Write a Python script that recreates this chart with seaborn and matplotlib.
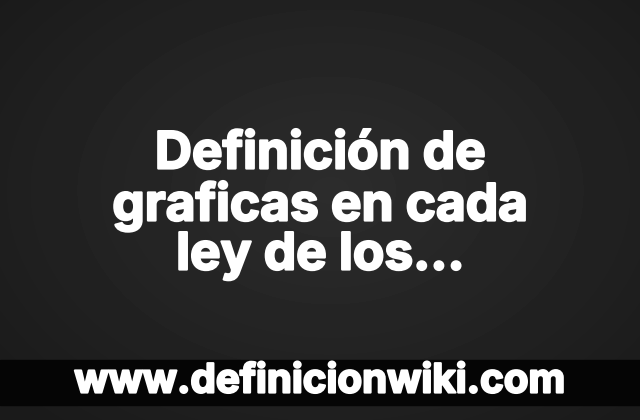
import numpy as np
import matplotlib.pyplot as plt
import matplotlib.patheffects as pe
import seaborn as sns
from matplotlib import font_manager

sns.set_theme(style='white')

title_lines = ['Definición de', 'graficas en cada', 'ley de los...']
line_y = [155, 206, 256]
site_label = 'www.definicionwiki.com'

names = {f.name for f in font_manager.fontManager.ttflist}
font = 'Inter' if 'Inter' in names else 'DejaVu Sans'
plt.rcParams['font.family'] = [font, 'DejaVu Sans']

fig = plt.figure(figsize=(6.4, 4.2), dpi=100)
ax = fig.add_axes([0, 0, 1, 1])
ax.set_xlim(0, 640)
ax.set_ylim(420, 0)
ax.axis('off')

# dark chalkboard background, a bit lighter in the middle
yy, xx = np.mgrid[0:420, 0:640]
d = np.sqrt(((xx - 330) / 420.0) ** 2 + ((yy - 190) / 300.0) ** 2)
shade = 0.175 - 0.07 * np.clip(d, 0, 1)
ax.imshow(shade, cmap='gray', vmin=0, vmax=1, extent=(0, 640, 420, 0), aspect='auto')

# thicker strokes to get closer to the extra-bold look
heavy = [pe.withStroke(linewidth=1.6, foreground='white')]

for txt, y in zip(title_lines, line_y):
    ax.text(320, y, txt, ha='center', va='center', color='white',
            fontsize=37, fontweight='bold', path_effects=heavy)

ax.axhspan(360, 405, color='#050505')
ax.text(320, 382, site_label, ha='center', va='center', color='white',
        fontsize=29, fontweight='bold', path_effects=heavy)

plt.savefig('out.png', dpi=100)
